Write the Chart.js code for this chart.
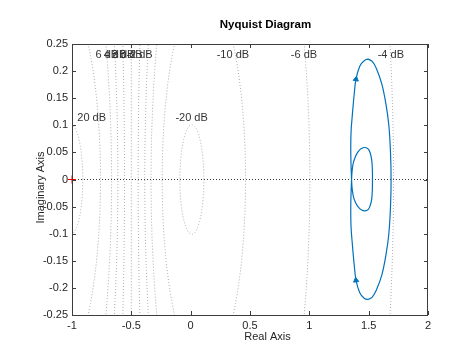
<!DOCTYPE html>
<html><head><meta charset="utf-8">
<script src="https://cdn.jsdelivr.net/npm/chart.js@4/dist/chart.umd.min.js"></script>
<style>html,body{margin:0;padding:0;background:#fff}#wrap{width:474px;height:355px}</style>
</head><body><div id="wrap"><canvas id="c" width="474" height="355"></canvas></div>
<script>
// ---- data ----
const xTicks = [-1, -0.5, 0, 0.5, 1, 1.5, 2];
const yTicks = [-0.25, -0.2, -0.15, -0.1, -0.05, 0, 0.05, 0.1, 0.15, 0.2, 0.25];
const gridDb = [20, 10, 6, 4, 2, 0, -2, -4, -6, -10, -20];
const dbLabelText = ["6 dB", "4 dB", "2 dB", "0 dB", "-2 dB", "-10 dB", "-6 dB", "-4 dB", "20 dB", "-20 dB"];
const dbLabelX = [-0.707, -0.638, -0.569, -0.5, -0.431, 0.356, 0.955, 1.687, -0.834, 0.008];
const dbLabelY = [0.229, 0.229, 0.229, 0.229, 0.229, 0.229, 0.229, 0.229, 0.113, 0.113];
// Nyquist curve: outer loop (crossing -> top -> right end), inner loop (crossing -> top -> right end)
const outerX      = [1.356, 1.351, 1.349, 1.352, 1.362, 1.377, 1.393, 1.425, 1.462, 1.496, 1.530, 1.565, 1.610, 1.645, 1.670, 1.684, 1.689];
const outerUpperY = [0.000, 0.030, 0.060, 0.090, 0.118, 0.155, 0.185, 0.209, 0.219, 0.222, 0.218, 0.205, 0.177, 0.140, 0.100, 0.050, 0.000];
const outerLowerY = [0.000, -0.030, -0.060, -0.090, -0.118, -0.155, -0.185, -0.209, -0.219, -0.221, -0.217, -0.204, -0.177, -0.140, -0.100, -0.050, 0.000];
const innerX      = [1.356, 1.360, 1.370, 1.388, 1.410, 1.438, 1.470, 1.497, 1.513, 1.525, 1.531, 1.532];
const innerUpperY = [0.000, 0.015, 0.030, 0.042, 0.051, 0.057, 0.059, 0.056, 0.049, 0.037, 0.020, 0.000];
const innerLowerY = [0.000, -0.015, -0.030, -0.042, -0.050, -0.056, -0.058, -0.055, -0.048, -0.037, -0.020, 0.000];
const arrowX = [1.393, 1.393];
const arrowY = [0.185, -0.186];
const criticalX = [-1];
const criticalY = [0];

// ---- build datasets ----
const CURVE = '#0072BD';
const GRIDC = '#a8a8a8';
const datasets = [];

function mCircleArcs(db) {
  if (db === 0) return [[{x: -0.5, y: -0.4}, {x: -0.5, y: 0.4}]];
  const M2 = Math.pow(10, db / 10), M = Math.sqrt(M2);
  const c = -M2 / (M2 - 1), r = Math.abs(M / (M2 - 1));
  const arcs = [];
  if (r <= 0.32) {
    const a = [];
    for (let i = 0; i <= 360; i++) { const t = 2 * Math.PI * i / 360; a.push({x: c + r * Math.cos(t), y: r * Math.sin(t)}); }
    arcs.push(a);
  } else {
    const h = Math.asin(0.32 / r);
    for (const base of [0, Math.PI]) {
      const a = [];
      for (let i = 0; i <= 200; i++) { const t = base - h + 2 * h * i / 200; a.push({x: c + r * Math.cos(t), y: r * Math.sin(t)}); }
      arcs.push(a);
    }
  }
  return arcs;
}
gridDb.forEach(db => mCircleArcs(db).forEach(arc => datasets.push({
  data: arc, showLine: true, borderColor: GRIDC, borderWidth: 1, borderDash: [1, 2],
  pointRadius: 0, tension: 0, order: 5
})));
// real axis dotted line
datasets.push({data: [{x: -1, y: 0}, {x: 2, y: 0}], showLine: true, borderColor: '#3a3a3a', borderWidth: 1,
  borderDash: [1, 2], pointRadius: 0, order: 4});

// one continuous traversal: outer top -> right -> outer lower -> crossing -> inner upper -> inner right
// -> inner lower -> crossing -> outer upper -> top
function nyquistPath() {
  const pts = [];
  const m = outerX.length, n = innerX.length, top = 9;
  for (let i = top; i < m; i++) pts.push({x: outerX[i], y: outerUpperY[i]});
  for (let i = m - 2; i >= 0; i--) pts.push({x: outerX[i], y: outerLowerY[i]});
  for (let i = 1; i < n; i++) pts.push({x: innerX[i], y: innerUpperY[i]});
  for (let i = n - 2; i >= 0; i--) pts.push({x: innerX[i], y: innerLowerY[i]});
  for (let i = 1; i <= top + 1; i++) pts.push({x: outerX[i], y: outerUpperY[i]});
  return pts;
}
datasets.push({data: nyquistPath(), showLine: true, borderColor: CURVE, borderWidth: 1.2,
  pointRadius: 0, tension: 0.35, order: 1});
datasets.push({data: arrowX.map((x, i) => ({x, y: arrowY[i]})), showLine: false, pointStyle: 'triangle',
  pointRadius: 3, pointBackgroundColor: CURVE, pointBorderColor: CURVE, pointRotation: [8, -8], order: 0});
datasets.push({data: criticalX.map((x, i) => ({x, y: criticalY[i]})), showLine: false, pointStyle: 'cross',
  pointRadius: 4, pointBorderColor: '#ff0000', pointBorderWidth: 1, clip: false, order: 0});

const FONT = '"Liberation Sans", Arial, Helvetica, sans-serif';
const TXT = '#262626';

const decor = {
  id: 'decor',
  afterDraw(chart) {
    const {ctx, chartArea: a, scales: {x, y}} = chart;
    ctx.save();
    ctx.strokeStyle = '#3c3c3c'; ctx.lineWidth = 1;
    ctx.strokeRect(Math.round(a.left) + 0.5, Math.round(a.top) + 0.5, Math.round(a.right - a.left) - 1, Math.round(a.bottom - a.top));
    const tl = 4;
    ctx.beginPath();
    xTicks.forEach(v => { const px = Math.round(x.getPixelForValue(v)) + 0.5;
      ctx.moveTo(px, a.bottom); ctx.lineTo(px, a.bottom - tl);
      ctx.moveTo(px, a.top); ctx.lineTo(px, a.top + tl); });
    yTicks.forEach(v => { const py = Math.round(y.getPixelForValue(v)) + 0.5;
      ctx.moveTo(a.left, py); ctx.lineTo(a.left + tl, py);
      ctx.moveTo(a.right, py); ctx.lineTo(a.right - tl, py); });
    ctx.stroke();
    ctx.fillStyle = '#333333'; ctx.font = '11px ' + FONT; ctx.textAlign = 'center'; ctx.textBaseline = 'middle';
    dbLabelText.forEach((t, i) => ctx.fillText(t, x.getPixelForValue(dbLabelX[i]), y.getPixelForValue(dbLabelY[i])));
    ctx.fillStyle = '#000'; ctx.font = 'bold 11.5px ' + FONT;
    ctx.fillText('Nyquist Diagram', 265.5, 25);
    ctx.fillStyle = TXT; ctx.font = '11px ' + FONT;
    ctx.fillText('Real Axis', 267.5, 336.5);
    ctx.translate(41, 187.5); ctx.rotate(-Math.PI / 2);
    ctx.fillText('Imaginary Axis', 0, 0);
    ctx.restore();
  }
};

const fmt = v => String(Math.round(v * 100) / 100);

new Chart(document.getElementById('c'), {
  type: 'scatter',
  data: {datasets},
  options: {
    responsive: false, animation: false, devicePixelRatio: 1,
    layout: {padding: {top: 44, right: 46, left: 0, bottom: 0}},
    plugins: {legend: {display: false}, tooltip: {enabled: false}, title: {display: false}},
    scales: {
      x: {type: 'linear', min: -1, max: 2,
        afterBuildTicks: s => { s.ticks = xTicks.map(v => ({value: v})); },
        afterFit: s => { s.height = 40; },
        grid: {display: false, drawTicks: false}, border: {display: false},
        ticks: {padding: 4, color: TXT, font: {family: FONT, size: 11}, callback: fmt, autoSkip: false, maxRotation: 0}},
      y: {type: 'linear', min: -0.25, max: 0.25,
        afterBuildTicks: s => { s.ticks = yTicks.map(v => ({value: v})); },
        afterFit: s => { s.width = 72; },
        grid: {display: false, drawTicks: false}, border: {display: false},
        ticks: {padding: 4, color: TXT, font: {family: FONT, size: 11}, callback: fmt, autoSkip: false}}
    }
  },
  plugins: [decor]
});
</script></body></html>
